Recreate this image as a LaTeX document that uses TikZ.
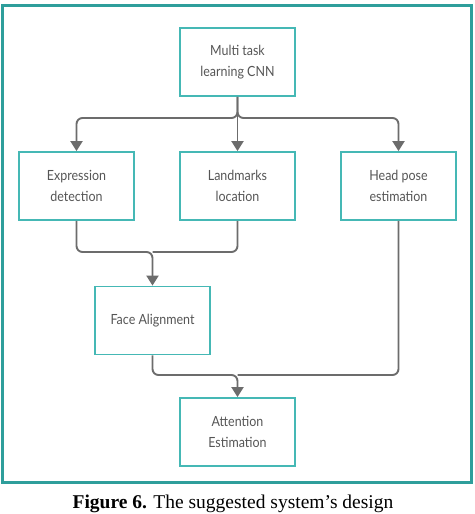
\documentclass[tikz,border=0pt]{standalone}
\usepackage{fontspec}
\setmainfont{Liberation Serif}
\newfontfamily\boxfont[FakeStretch=0.89]{Lato}
\usetikzlibrary{arrows.meta}
\definecolor{frameteal}{HTML}{2E9E9B}
\definecolor{boxteal}{HTML}{45B8B5}
\definecolor{conngray}{HTML}{6C6C6C}
\definecolor{txtgray}{HTML}{555555}
\tikzset{
  procbox/.style={draw=boxteal, line width=1.8pt, minimum width=115pt, minimum height=68pt,
    inner sep=0pt, align=center, text=txtgray,
    font=\boxfont\fontsize{14}{21}\selectfont},
  conn/.style={draw=conngray, line width=1.9pt},
  arr/.style={conn, -{Triangle[width=12pt,length=10pt]}},
}
\begin{document}
\begin{tikzpicture}[x=1pt,y=-1pt]
\useasboundingbox (0,0) rectangle (474,514);
\draw[frameteal, line width=3pt] (2.5,5.5) rectangle (471.5,482.5);
\node[procbox] (mt) at (237.5,62) {Multi task\\learning CNN};
\node[procbox] (ex) at (76.5,186) {Expression\\detection};
\node[procbox] (lm) at (237.5,186) {Landmarks\\location};
\node[procbox] (hp) at (398.5,186) {Head pose\\estimation};
\node[procbox] (fa) at (152.5,320.5) {Face Alignment};
\node[procbox] (at) at (237.5,432) {Attention\\Estimation};
\coordinate (j1) at (237.5,118);
\coordinate (j2) at (152.5,252);
\coordinate (j3) at (237.5,375);
\draw[arr] {[rounded corners=6pt] (mt.south) -- (j1) -| (ex.north)};
\draw[arr] {[rounded corners=6pt] (mt.south) -- (j1) -| (hp.north)};
\draw[arr] (mt.south) -- (lm.north);
\draw[arr] {[rounded corners=6pt] (ex.south) |- (j2) -- (fa.north)};
\draw[conn, rounded corners=6pt] (lm.south) |- (j2);
\draw[arr] {[rounded corners=6pt] (fa.south) |- (j3) -- (at.north)};
\draw[conn, rounded corners=6pt] (hp.south) |- (j3);
\node[anchor=base, font=\fontsize{19.5}{22}\selectfont, inner sep=0pt] (cap) at (233,508)
  {\textbf{Figure 6.} The suggested system’s design};
\end{tikzpicture}
\end{document}
